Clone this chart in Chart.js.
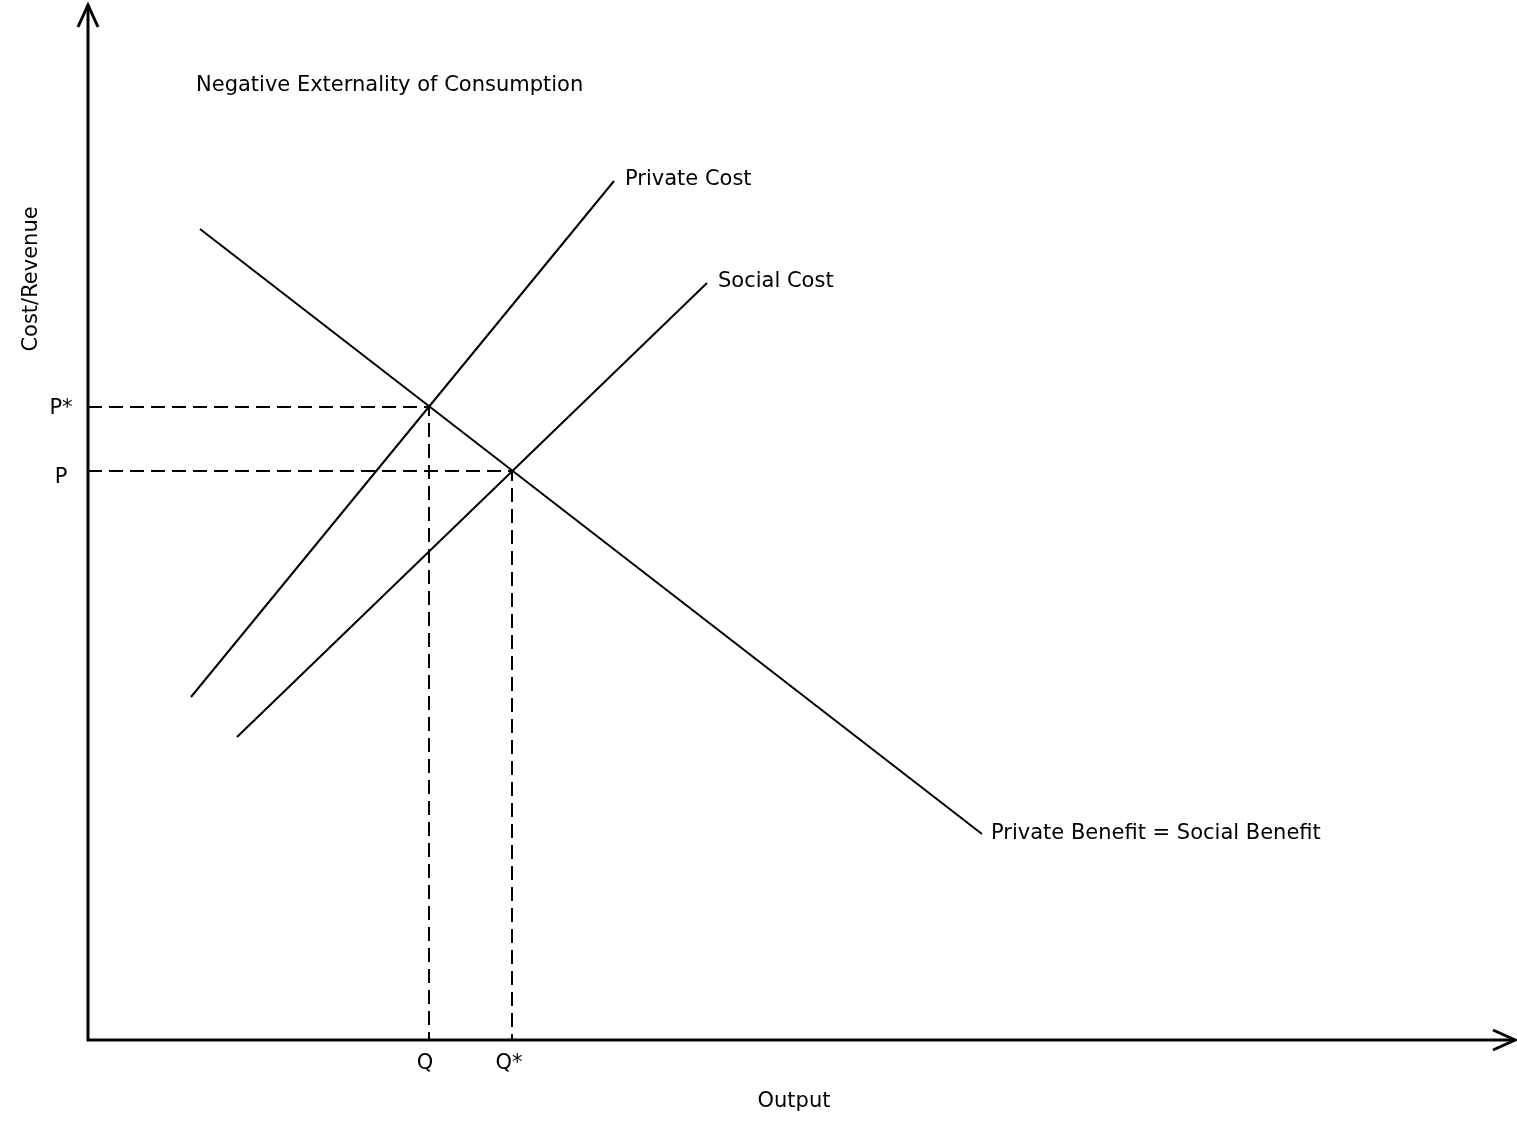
<!DOCTYPE html>
<html><head><meta charset="utf-8">
<script src="https://cdn.jsdelivr.net/npm/chart.js@4"></script>
<style>html,body{margin:0;padding:0;background:#fff}canvas{display:block}</style>
</head><body>
<canvas id="c" width="1517" height="1128"></canvas>
<script>
// Data units: output (x) and cost/revenue (y), origin at axes intersection
const privateCost = [{x:103,y:343},{x:526,y:859}];
const socialCost = [{x:149,y:303},{x:619,y:757}];
const benefit = [{x:112,y:811},{x:894,y:206}];
const qValues = [341, 424];      // Q, Q*
const pValues = [633, 569];      // P*, P
const qLabels = ['Q','Q*'];
const pLabels = ['P*','P'];
const curveLabels = ['Private Cost','Social Cost','Private Benefit = Social Benefit'];
const titleText = 'Negative Externality of Consumption';
const xTitle = 'Output', yTitle = 'Cost/Revenue';
const axisMax = {x:1427, y:1035};

const solid = (d)=>({data:d, borderColor:'#000', borderWidth:2, showLine:true, pointRadius:0, fill:false});
const dashed = (d)=>({data:d, borderColor:'#000', borderWidth:2, borderDash:[14,7], showLine:true, pointRadius:0, fill:false});

const datasets = [
  solid(privateCost), solid(socialCost), solid(benefit),
  dashed([{x:0,y:pValues[0]},{x:qValues[0],y:pValues[0]},{x:qValues[0],y:0}]),
  dashed([{x:0,y:pValues[1]},{x:qValues[1],y:pValues[1]},{x:qValues[1],y:0}]),
  {data:[{x:0,y:axisMax.y},{x:0,y:0},{x:axisMax.x,y:0}], borderColor:'#000', borderWidth:3, showLine:true, pointRadius:0, fill:false}
];

const deco = {
  id:'deco',
  afterDatasetsDraw(chart){
    const {ctx, scales:{x, y}} = chart;
    const X = v=>x.getPixelForValue(v), Y = v=>y.getPixelForValue(v);
    ctx.save();
    ctx.fillStyle='#000'; ctx.strokeStyle='#000'; ctx.lineWidth=3;
    // arrowheads
    ctx.beginPath();
    ctx.moveTo(X(0)-10, Y(axisMax.y)+22); ctx.lineTo(X(0), Y(axisMax.y)); ctx.lineTo(X(0)+10, Y(axisMax.y)+22);
    ctx.moveTo(X(axisMax.x)-22, Y(0)-10); ctx.lineTo(X(axisMax.x), Y(0)); ctx.lineTo(X(axisMax.x)-22, Y(0)+10);
    ctx.stroke();
    ctx.font='21px "DejaVu Sans"';
    ctx.textBaseline='middle';
    ctx.textAlign='left';
    ctx.fillText(titleText, X(108), Y(954));
    ctx.fillText(curveLabels[0], X(privateCost[1].x+11), Y(privateCost[1].y+1));
    ctx.fillText(curveLabels[1], X(socialCost[1].x+11), Y(socialCost[1].y+1));
    ctx.fillText(curveLabels[2], X(benefit[1].x+9), Y(benefit[1].y+0));
    ctx.textAlign='center';
    pLabels.forEach((l,i)=>ctx.fillText(l, X(-27), Y(pValues[i]-2-i*5)));
    qLabels.forEach((l,i)=>ctx.fillText(l, X(qValues[i]-4+i), Y(-24)));
    ctx.fillText(xTitle, X(706), Y(-62));
    ctx.translate(X(-56), Y(761));
    ctx.rotate(-Math.PI/2);
    ctx.fillText(yTitle, 0, 0);
    ctx.restore();
  }
};

new Chart(document.getElementById('c'), {
  type:'scatter',
  data:{datasets},
  options:{
    responsive:false, animation:false, devicePixelRatio:1,
    layout:{padding:0},
    plugins:{legend:{display:false}, tooltip:{enabled:false}},
    scales:{
      x:{type:'linear', min:-88, max:1429, display:false},
      y:{type:'linear', min:-88, max:1040, display:false}
    }
  },
  plugins:[deco]
});
</script>
</body></html>
